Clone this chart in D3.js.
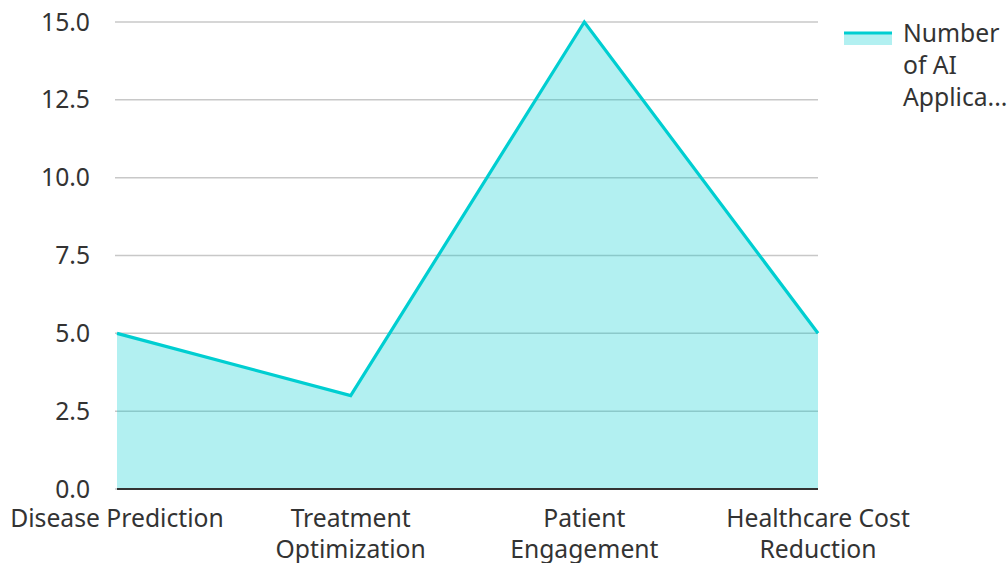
<!DOCTYPE html>
<meta charset="utf-8">
<html>
<head>
  <title>AI applications</title>
  <style>
    body { margin: 0; background: #fff; }
    text { font-family: "Noto Sans", sans-serif; fill: #333; }
  </style>
</head>
<body>
  <script src="https://d3js.org/d3.v7.js"></script>
  <div id="chart"></div>
  <script>
    // data
    var categories = ["Disease Prediction", "Treatment Optimization", "Patient Engagement", "Healthcare Cost Reduction"];
    var categoryLines = [["Disease Prediction"], ["Treatment", "Optimization"], ["Patient", "Engagement"], ["Healthcare Cost", "Reduction"]];
    var values = [5, 3, 15, 5];
    var yTicks = [0, 2.5, 5, 7.5, 10, 12.5, 15];
    var seriesName = ["Number", "of AI", "Applica..."];

    var W = 1008, H = 563;
    var margin = { top: 22, right: 190, bottom: 74, left: 117 },
      width = W - margin.left - margin.right,
      height = H - margin.top - margin.bottom;

    var lineColor = "#00ced1";
    var fillColor = "rgba(0,206,209,0.3)";
    var fontSize = "24.7px";

    var svg = d3.select("#chart")
      .append("svg")
      .attr("width", W)
      .attr("height", H)
      .append("g")
      .attr("transform", "translate(" + margin.left + "," + margin.top + ")");

    var x = d3.scalePoint()
      .domain(categories)
      .range([0, width])
      .padding(0);

    var y = d3.scaleLinear()
      .domain([0, 15])
      .range([height, 0]);

    // grid
    svg.append("g")
      .selectAll("line")
      .data(yTicks)
      .enter()
      .append("line")
      .attr("x1", -2)
      .attr("x2", width)
      .attr("y1", function (d) { return y(d); })
      .attr("y2", function (d) { return y(d); })
      .attr("stroke", "#c8c8c8")
      .attr("stroke-width", 1.5);

    // y tick labels
    svg.append("g")
      .selectAll("text")
      .data(yTicks)
      .enter()
      .append("text")
      .attr("x", -27)
      .attr("y", function (d) { return y(d); })
      .attr("dy", "0.35em")
      .attr("text-anchor", "end")
      .style("font-size", fontSize)
      .text(function (d) { return d3.format(".1f")(d); });

    var data = categories.map(function (c, i) { return { c: c, v: values[i] }; });

    svg.append("path")
      .datum(data)
      .attr("fill", fillColor)
      .attr("d", d3.area()
        .x(function (d) { return x(d.c); })
        .y0(y(0))
        .y1(function (d) { return y(d.v); }));

    svg.append("path")
      .datum(data)
      .attr("fill", "none")
      .attr("stroke", lineColor)
      .attr("stroke-width", 3.2)
      .attr("d", d3.line()
        .x(function (d) { return x(d.c); })
        .y(function (d) { return y(d.v); }));

    // x axis baseline
    svg.append("line")
      .attr("x1", 0)
      .attr("x2", width)
      .attr("y1", height)
      .attr("y2", height)
      .attr("stroke", "#333")
      .attr("stroke-width", 2);

    // x labels
    var xl = svg.append("g")
      .selectAll("text")
      .data(categories)
      .enter()
      .append("text")
      .attr("x", function (d) { return x(d); })
      .attr("y", height + 38)
      .attr("text-anchor", "middle")
      .style("font-size", fontSize);
    xl.each(function (d, i) {
      var t = d3.select(this);
      categoryLines[i].forEach(function (line, j) {
        t.append("tspan")
          .attr("x", x(d))
          .attr("dy", j == 0 ? 0 : 31)
          .text(line);
      });
    });

    // legend
    var lg = svg.append("g")
      .attr("transform", "translate(" + (width + 26) + ",0)");
    lg.append("rect")
      .attr("x", 0)
      .attr("y", 11)
      .attr("width", 48)
      .attr("height", 12)
      .attr("fill", fillColor);
    lg.append("line")
      .attr("x1", 0)
      .attr("x2", 48)
      .attr("y1", 11)
      .attr("y2", 11)
      .attr("stroke", lineColor)
      .attr("stroke-width", 3);
    lg.append("g")
      .selectAll("text")
      .data(seriesName)
      .enter()
      .append("text")
      .attr("x", 59)
      .attr("y", function (d, i) { return 11 + i * 32; })
      .attr("dy", "0.35em")
      .style("font-size", fontSize)
      .text(function (d) { return d; });
  </script>
</body>
</html>
